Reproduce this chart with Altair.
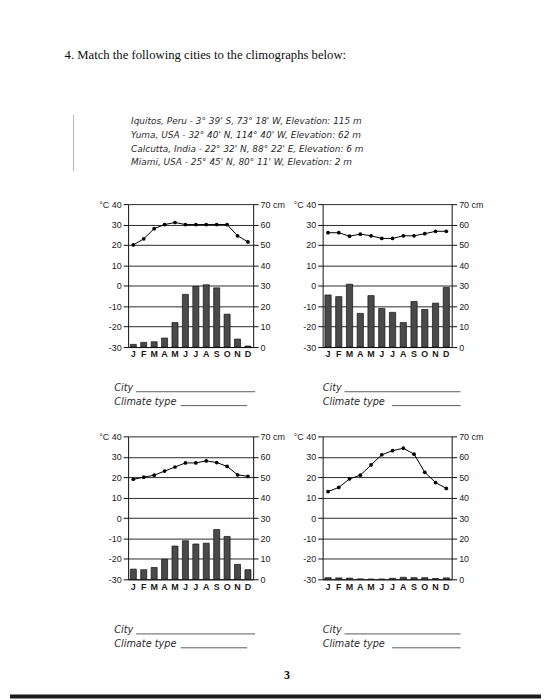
import altair as alt
import pandas as pd

months = ["Jan", "Feb", "Mar", "Apr", "May", "Jun", "Jul", "Aug", "Sep", "Oct", "Nov", "Dec"]

# Climograph 1 (top left)
temp_1 = [20, 23, 28, 30, 31, 30, 30, 30, 30, 30, 24.5, 21.5]
precip_1 = [1.3, 2.3, 2.6, 4.4, 12, 25.8, 29.7, 30.5, 29, 16.1, 3.9, 0.5]
# Climograph 2 (top right)
temp_2 = [26, 26, 24.3, 25.3, 24.5, 23.2, 23.2, 24.5, 24.5, 25.5, 26.7, 26.7]
precip_2 = [25.5, 24.7, 30.8, 16.5, 25.2, 18.9, 17, 12, 22.3, 18.4, 21.5, 29.2]
# Climograph 3 (bottom left)
temp_3 = [19, 20, 21, 23, 25, 27, 27, 28, 27.2, 25.3, 21.2, 20.4]
precip_3 = [5, 4.7, 5.8, 9.8, 16.3, 18.9, 17.3, 17.7, 24.4, 21, 7.3, 4.7]
# Climograph 4 (bottom right)
temp_4 = [13, 15, 19.2, 21, 26, 31, 33, 34.2, 31.3, 22.4, 17.4, 14.5]
precip_4 = [0.8, 0.7, 0.6, 0.2, 0.1, 0.1, 0.5, 1.0, 0.8, 0.8, 0.4, 0.7]

temp_ticks = [-30, -20, -10, 0, 10, 20, 30, 40]
precip_ticks = [0, 10, 20, 30, 40, 50, 60, 70]

title_text = "4. Match the following cities to the climographs below:"
city_lines = [
    "Iquitos, Peru - 3° 39' S, 73° 18' W, Elevation: 115 m",
    "Yuma, USA - 32° 40' N, 114° 40' W, Elevation: 62 m",
    "Calcutta, India - 22° 32' N, 88° 22' E, Elevation: 6 m",
    "Miami, USA - 25° 45' N, 80° 11' W, Elevation: 2 m",
]
city_label = "City"
climate_label = "Climate type"
page_number = "3"

AX_FONT = "Liberation Sans"
TXT_FONT = "DejaVu Sans"


def climograph(temps, precs, w, h=144):
    df = pd.DataFrame({"month": months, "temp": temps, "precip": precs})
    base = alt.Chart(df)
    x = alt.X(
        "month:N",
        sort=months,
        scale=alt.Scale(paddingInner=0.42, paddingOuter=0.21),
        axis=alt.Axis(
            title=None,
            labelExpr="substring(datum.label, 0, 1)",
            ticks=False,
            labelAngle=0,
            domainColor="#111",
            domainWidth=1,
            labelFont=AX_FONT,
            labelFontSize=9,
            labelFontWeight="bold",
            labelColor="#1a1a1a",
            labelPadding=3,
        ),
    )
    bars = base.mark_bar(fill="#4a4a4a", stroke="#111", strokeWidth=0.7).encode(
        x=x,
        y=alt.Y(
            "precip:Q",
            scale=alt.Scale(domain=[0, 70], nice=False),
            axis=alt.Axis(
                orient="right",
                values=precip_ticks,
                title=None,
                grid=False,
                labelExpr="datum.value == 70 ? '70 cm' : '' + datum.value",
                domainColor="#111",
                tickColor="#111",
                tickSize=5,
                labelFont=AX_FONT,
                labelFontSize=9,
                labelColor="#1a1a1a",
                labelPadding=2,
            ),
        ),
    )
    line = base.mark_line(
        color="black",
        strokeWidth=1,
        point=alt.OverlayMarkDef(filled=True, size=14, color="black"),
    ).encode(
        x=alt.X("month:N", sort=months),
        y=alt.Y(
            "temp:Q",
            scale=alt.Scale(domain=[-30, 40], nice=False),
            axis=alt.Axis(
                orient="left",
                values=temp_ticks,
                title=None,
                grid=True,
                gridColor="#2a2a2a",
                gridWidth=1,
                labelExpr="datum.value == 40 ? '°C 40' : '' + datum.value",
                domainColor="#111",
                tickColor="#111",
                tickSize=5,
                labelFont=AX_FONT,
                labelFontSize=9,
                labelColor="#1a1a1a",
                labelPadding=2,
            ),
        ),
    )
    return alt.layer(bars, line).resolve_scale(y="independent").properties(width=w, height=h)


def txt(s, x, y, size, font=TXT_FONT, style="normal", weight="normal", align="left", color="#2a2a2a"):
    return alt.Chart(pd.DataFrame({"t": [s]})).mark_text(
        align=align, baseline="middle", fontSize=size, font=font,
        fontStyle=style, fontWeight=weight, color=color,
    ).encode(x=alt.value(x), y=alt.value(y), text="t:N")


def rule(x1, x2, y, color="#333", width=0.8):
    return alt.Chart(pd.DataFrame({"a": [0]})).mark_rule(color=color, strokeWidth=width).encode(
        x=alt.value(x1), x2=alt.value(x2), y=alt.value(y)
    )


def vrule(x, y1, y2, color="#bbb", width=1.2):
    return alt.Chart(pd.DataFrame({"a": [0]})).mark_rule(color=color, strokeWidth=width).encode(
        x=alt.value(x), y=alt.value(y1), y2=alt.value(y2)
    )


def spacer(w, h):
    return alt.Chart(pd.DataFrame({"a": [0]})).mark_point(opacity=0).properties(width=w, height=h)


def answer_block(y0):
    layers = []
    for cx in (105, 315):
        layers.append(txt(city_label, cx, y0, 9.8, style="italic"))
        layers.append(txt(climate_label, cx, y0 + 14, 9.8, style="italic"))
    layers.append(rule(127, 247, y0 + 4))
    layers.append(rule(172, 239, y0 + 18))
    layers.append(rule(337, 454, y0 + 4))
    layers.append(rule(385, 454, y0 + 18))
    return layers


W = 535

header = alt.layer(
    txt(title_text, 55, 45, 12.8, font="Liberation Serif", color="#0d0d0d"),
    *[txt(s, 122, 111 + 14 * i, 9, style="italic") for i, s in enumerate(city_lines)],
    vrule(64, 105, 162),
).properties(width=W, height=191)

row1 = alt.hconcat(
    spacer(119, 144), climograph(temp_1, precip_1, 126), spacer(70, 144), climograph(temp_2, precip_2, 130),
    spacing=0, bounds="flush",
)
mid = alt.layer(*answer_block(29)).properties(width=W, height=74)
row2 = alt.hconcat(
    spacer(119, 144), climograph(temp_3, precip_3, 126), spacer(70, 144), climograph(temp_4, precip_4, 130),
    spacing=0, bounds="flush",
)
bottom = alt.layer(
    *answer_block(39),
    txt(page_number, 279, 84, 12, font="Liberation Serif", weight="bold", align="center", color="#111"),
    rule(0, W, 106, color="#1a1a1a", width=4),
).properties(width=W, height=108)

chart = alt.vconcat(
    header, row1, mid, row2, bottom, spacing=0
).properties(padding=0, background="white").configure_view(strokeWidth=0)

chart.save("out.html", embed_options={"renderer": "svg", "actions": False})
